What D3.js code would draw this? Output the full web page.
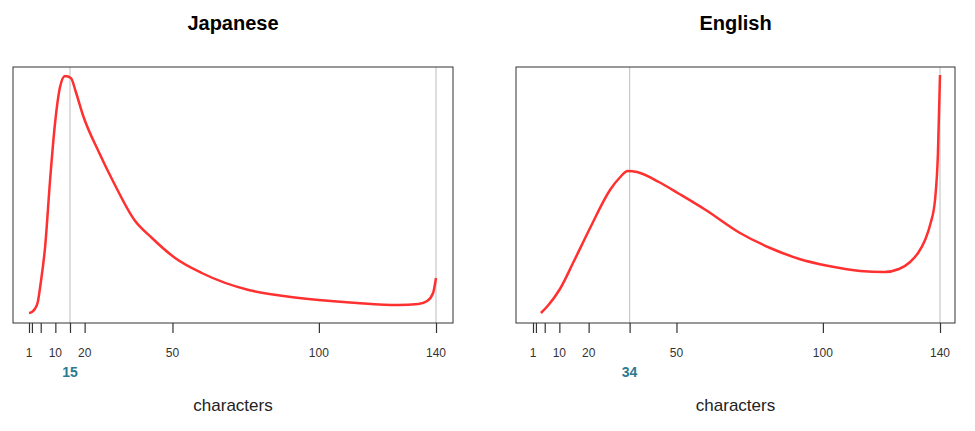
<!DOCTYPE html>
<html><head><meta charset="utf-8">
<script src="https://cdn.jsdelivr.net/npm/d3@7"></script>
<style>body{margin:0;background:#fff}</style></head>
<body><svg id="c" width="975" height="431"></svg>
<script>
const titles = ["Japanese", "English"];
const jpX = [1,2,3,4,5,6.5,8.2,9.9,11.6,13.3,15.3,17,19.4,25,30,37,43,50.9,60,76,88,100,113,127,134,137,139,140];
const jpY = [0,0.001,0.004,0.011,0.030,0.066,0.133,0.190,0.226,0.237,0.235,0.221,0.198,0.160,0.130,0.093,0.075,0.055,0.040,0.023,0.017,0.013,0.010,0.008,0.009,0.012,0.020,0.035];
const enX = [3.7,6,10.2,15,20.5,27.3,30.5,33.4,36.5,44,51,60,71.7,82,92,102,112.7,121,126,129.8,132.5,134.9,136.8,138.3,139.3,140];
const enY = [0,0.007,0.024,0.052,0.085,0.123,0.135,0.142,0.141,0.131,0.119,0.103,0.080,0.065,0.054,0.047,0.042,0.041,0.044,0.051,0.060,0.073,0.090,0.113,0.160,0.238];
const jpTicks = [1,2,5,10,15,20,50,100,140];
const enTicks = [1,2,5,10,20,34,50,100,140];
const jpLabels = [1,10,20,50,100,140];
const enLabels = [1,10,20,50,100,140];
const modes = [15, 34];

const svg = d3.select("#c");
const panels = [
  {x0:13, x1:453, r0:29, r1:436, xs:jpX, ys:jpY, ticks:jpTicks, labels:jpLabels},
  {x0:516, x1:955, r0:533, r1:940, xs:enX, ys:enY, ticks:enTicks, labels:enLabels}
];
panels.forEach((p,i)=>{
  const g = svg.append("g");
  const x = d3.scaleLinear().domain([1,140]).range([p.r0,p.r1]);
  const y = d3.scaleLinear().domain([0,0.246]).range([313,67]);
  g.append("text").attr("x",(p.x0+p.x1)/2).attr("y",30).attr("text-anchor","middle")
    .attr("font-family","Liberation Sans, Arial").attr("font-weight","bold").attr("font-size",20).text(titles[i]);
  [modes[i],140].forEach(v=>g.append("line").attr("x1",x(v)).attr("x2",x(v)).attr("y1",67).attr("y2",323).attr("stroke","#c8c8c8").attr("stroke-width",1.2));
  g.append("path").datum(p.xs.map((v,k)=>[v,p.ys[k]]))
    .attr("d",d3.line().x(d=>x(d[0])).y(d=>y(d[1])).curve(d3.curveMonotoneX))
    .attr("fill","none").attr("stroke","#ff3030").attr("stroke-width",2.5);
  g.append("rect").attr("x",p.x0).attr("y",67).attr("width",p.x1-p.x0).attr("height",323-67)
    .attr("fill","none").attr("stroke","#333").attr("stroke-width",1);
  const ax = g.append("g").attr("transform","translate(0,323)")
    .call(d3.axisBottom(x).tickValues(p.ticks).tickSize(10).tickFormat(""));
  ax.select(".domain").remove();
  ax.selectAll("line").attr("stroke","#333").attr("stroke-width",1.2);
  p.labels.forEach(v=>g.append("text").attr("x",x(v)).attr("y",357).attr("text-anchor","middle")
    .attr("font-family","Liberation Sans, Arial").attr("font-size",12).attr("fill","#333").text(v));
  g.append("text").attr("x",x(modes[i])).attr("y",377).attr("text-anchor","middle")
    .attr("font-family","Liberation Sans, Arial").attr("font-weight","bold").attr("font-size",14).attr("fill","#2b7a92").text(modes[i]);
  g.append("text").attr("x",(p.x0+p.x1)/2).attr("y",411).attr("text-anchor","middle")
    .attr("font-family","Liberation Sans, Arial").attr("font-size",17).attr("fill","#222").text("characters");
});
</script></body></html>
